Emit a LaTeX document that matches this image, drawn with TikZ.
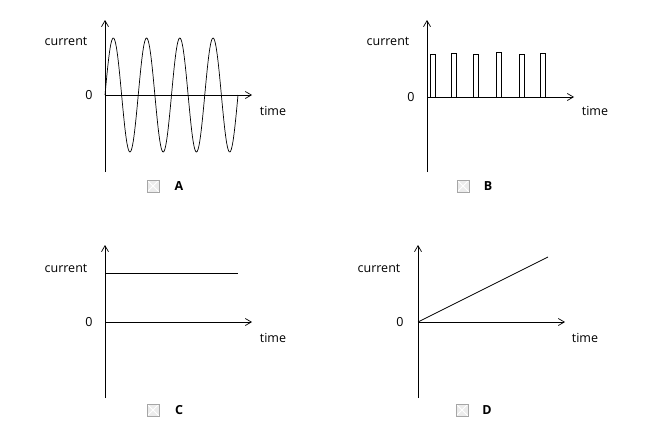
\documentclass[tikz,border=0pt]{standalone}
\usepackage{fontspec}
\setmainfont{Open Sans}
\usetikzlibrary{arrows.meta}
\begin{document}
\begin{tikzpicture}[x=1pt,y=-1pt,
  ax/.style={line width=0.7pt,-{Straight Barb[length=6pt,width=7pt]}},
  crv/.style={line width=0.7pt},
  lbl/.style={font=\fontsize{12.5}{14}\selectfont,inner sep=0pt},
  cbox/.style={draw=gray!70,fill=gray!15,minimum size=12pt,inner sep=0pt,path picture={\draw[white,line width=1pt](path picture bounding box.south west)--(path picture bounding box.north east)(path picture bounding box.north west)--(path picture bounding box.south east);}},
  let/.style={font=\fontsize{12.5}{14}\selectfont\bfseries,inner sep=0pt}]
\useasboundingbox (0,0) rectangle (652,437);
% A
\coordinate (Ao) at (105,95);
\coordinate (Ay) at (105,20);
\coordinate (Ax) at (252,95);
\coordinate (Ab) at (105,172);
\draw[ax] (Ab) -- (Ay);
\draw[ax] (Ao) -- (Ax);
\draw[crv] plot[domain=0:133,samples=200,smooth] ({105+\x},{95-57*sin(\x/33.25*360)});
\node[lbl] (Ac) at (66,41) {current};
\node[lbl] (A0) at (89,95) {0};
\node[lbl] (At) at (273,111) {time};
\node[cbox] (Abox) at (153,186) {};
\node[let] (AL) at (179,186) {A};
% B
\coordinate (Bo) at (427,97);
\coordinate (By) at (427,20);
\coordinate (Bx) at (574,97);
\coordinate (Bb) at (427,172);
\draw[ax] (Bb) -- (By);
\draw[ax] (Bo) -- (Bx);
\foreach \a/\h in {430/54,451/53,473/54,496/52,519/54,540/53}
  \draw[crv] (\a,97) -- (\a,\h) -- (\a+5,\h) -- (\a+5,97);
\node[lbl] (Bc) at (388,41) {current};
\node[lbl] (B0) at (411,97) {0};
\node[lbl] (Bt) at (595,111) {time};
\node[cbox] (Bbox) at (463,186) {};
\node[let] (BL) at (488,186) {B};
% C
\coordinate (Co) at (105,322);
\coordinate (Cy) at (105,245);
\coordinate (Cx) at (252,322);
\coordinate (Cb) at (105,398);
\coordinate (Ce) at (238,273);
\coordinate (Cs) at (105,273);
\draw[ax] (Cb) -- (Cy);
\draw[ax] (Co) -- (Cx);
\draw[crv] (Cs) -- (Ce);
\node[lbl] (Cc) at (66,268) {current};
\node[lbl] (C0) at (89,322) {0};
\node[lbl] (Ct) at (273,338) {time};
\node[cbox] (Cbox) at (153,410) {};
\node[let] (CL) at (179,410) {C};
% D
\coordinate (Do) at (418,322);
\coordinate (Dy) at (418,245);
\coordinate (Dx) at (565,322);
\coordinate (Db) at (418,398);
\coordinate (De) at (548,257);
\draw[ax] (Db) -- (Dy);
\draw[ax] (Do) -- (Dx);
\draw[crv] (Do) -- (De);
\node[lbl] (Dc) at (379,268) {current};
\node[lbl] (D0) at (400,322) {0};
\node[lbl] (Dt) at (585,338) {time};
\node[cbox] (Dbox) at (462,410) {};
\node[let] (DL) at (487,410) {D};
\end{tikzpicture}
\end{document}
